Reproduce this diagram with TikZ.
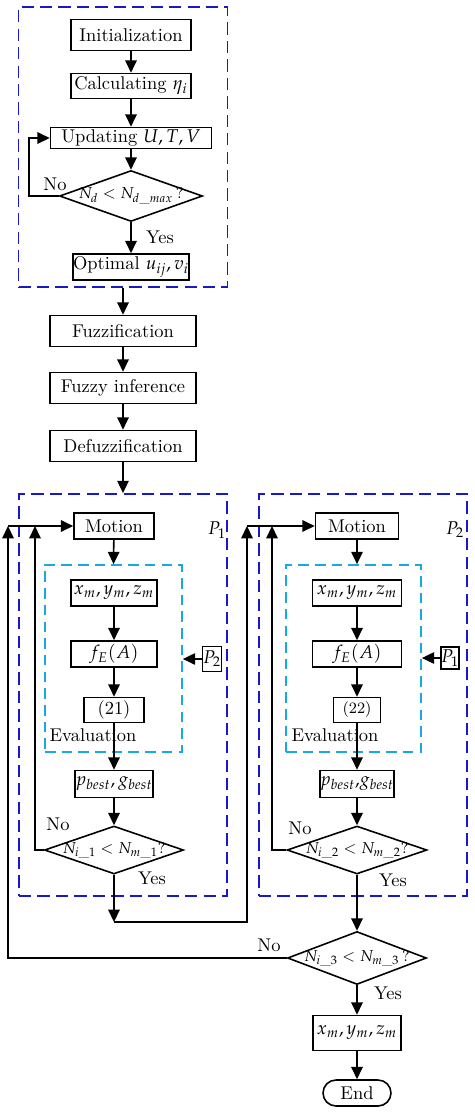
\documentclass[tikz,border=0pt]{standalone}
\usepackage{amsmath,amssymb}
\usepackage{mathpazo}
\usepackage{tikz}
\usetikzlibrary{shapes.geometric,arrows.meta}
\definecolor{grpblue}{RGB}{25,25,200}
\definecolor{grpcyan}{RGB}{25,170,220}

\begin{document}
\begin{tikzpicture}[x=0.02cm,y=-0.02cm,line width=0.9pt,>={Triangle[length=7pt,width=6.5pt]},
  font=\fontsize{10.5}{12.5}\selectfont,
  box/.style={draw,inner sep=0pt,minimum height=0.52cm},
  dec/.style={draw,diamond,inner sep=0pt},
  cond/.style={font=\small},
  grp/.style={draw=grpblue,line width=1.1pt,dash pattern=on 7pt off 3.5pt,inner sep=0pt},
  subgrp/.style={draw=grpcyan,line width=1pt,dash pattern=on 6pt off 3.5pt,inner sep=0pt}]
\useasboundingbox (0,0) rectangle (474,1117);

% clustering part
\draw (123,147) node[grp,minimum width=4.18cm,minimum height=5.6cm] (G0) {};
\draw (131,35) node[box,minimum width=2.4cm,minimum height=0.62cm] (init) {Initialization};
\draw (131,86) node[box,minimum width=2.4cm,minimum height=0.5cm] (calc) {Calculating $\eta_i$};
\draw (131,138) node[box,minimum width=3.22cm,minimum height=0.42cm] (upd) {Updating $U,T,V$};
\draw (131,196) node[dec,minimum width=2.86cm,minimum height=1.02cm,label={[cond]center:{$N_d<N_{d\_max}$\,?}}] (d0) {};
\draw (131,267) node[box,minimum width=2.32cm,minimum height=0.52cm] (opt) {Optimal $u_{ij}, v_i$};
\draw[->] (init) -- (calc);
\draw[->] (calc) -- (upd);
\draw[->] (upd) -- (d0);
\draw[->] (d0) -- (opt);
\draw[->] (d0.west) -- ++(-30,0) |- (upd.west);
\draw (55,184) node {No};
\draw (160,237) node {Yes};

% fuzzy part
\draw (123,331) node[box,minimum width=2.92cm,minimum height=0.62cm] (fuz) {Fuzzification};
\draw (123,388) node[box,minimum width=2.92cm,minimum height=0.62cm] (inf) {Fuzzy inference};
\draw (123,446) node[box,minimum width=2.92cm,minimum height=0.62cm] (defuz) {Defuzzification};
\draw[->] (G0.south) -- (fuz);
\draw[->] (fuz) -- (inf);
\draw[->] (inf) -- (defuz);

% population 1
\draw (123,695) node[grp,minimum width=4.16cm,minimum height=8.04cm] (G1) {};
\draw (217,530) node {$P_1$};
\draw (113.5,658.5) node[subgrp,minimum width=2.74cm,minimum height=3.74cm] (E1) {};
\draw (93,735) node {Evaluation};
\draw (114,526) node[box,minimum width=1.6cm] (mot1) {Motion};
\draw (114,593) node[box,minimum width=1.72cm] (xyz1) {$x_m,y_m,z_m$};
\draw (114,654) node[box,minimum width=1.72cm] (fe1) {$f_E(A)$};
\draw (114,710) node[box,minimum width=1.2cm,minimum height=0.5cm] (eq1) {(21)};
\draw (114,784) node[box,minimum width=1.56cm,minimum height=0.54cm] (best1) {$p_{best},g_{best}$};
\draw (114,850) node[dec,minimum width=2.78cm,minimum height=0.96cm,label={[cond]center:{$N_{i\_1}<N_{m\_1}$?}}] (d1) {};
\draw (212,659) node[box,minimum width=0.38cm,minimum height=0.5cm] (pin2) {$P_2$};
\draw[->] (defuz) -- (G1.north);
\draw[->] (mot1) -- (E1.north);
\draw[->] (xyz1) -- (fe1);
\draw[->] (fe1) -- (eq1);
\draw[->] (eq1) -- (best1);
\draw[->] (best1) -- (d1);
\draw[->] (pin2) -- (pin2 -| E1.east);
\draw (58,824) node {No};
\draw (152,878) node {Yes};

% population 2
\draw (363,695) node[grp,minimum width=4.16cm,minimum height=8.04cm] (G2) {};
\draw (455,530) node {$P_2$};
\draw (353.5,658.5) node[subgrp,minimum width=2.7cm,minimum height=3.74cm] (E2) {};
\draw (335,735) node {Evaluation};
\draw (357,526) node[box,minimum width=1.66cm] (mot2) {Motion};
\draw (357,593) node[box,minimum width=1.78cm] (xyz2) {$x_m,y_m,z_m$};
\draw (357,654) node[box,minimum width=1.78cm] (fe2) {$f_E(A)$};
\draw (357,710) node[box,minimum width=0.94cm,minimum height=0.5cm] (eq2) {\small(22)};
\draw (357,784) node[box,minimum width=1.24cm,minimum height=0.54cm] (best2) {$p_{best}{,}g_{best}$};
\draw (357,850) node[dec,minimum width=2.8cm,minimum height=0.96cm,label={[cond]center:{$N_{i\_2}<N_{m\_2}$?}}] (d2) {};
\draw (450,658) node[box,minimum width=0.36cm,minimum height=0.44cm] (pin1) {$P_1$};
\draw[->] (mot2) -- (E2.north -| mot2);
\draw[->] (xyz2) -- (fe2);
\draw[->] (fe2) -- (eq2);
\draw[->] (eq2) -- (best2);
\draw[->] (best2) -- (d2);
\draw[->] (pin1) -- (pin1 -| E2.east);
\draw (300,828) node {No};
\draw (393,880) node {Yes};

% outer loop
\draw (357,958) node[dec,minimum width=2.78cm,minimum height=1.06cm,label={[cond]center:{$N_{i\_3}<N_{m\_3}$\,?}}] (d3) {};
\draw (357,1033) node[box,minimum width=1.76cm,minimum height=0.7cm] (xyz3) {$x_m,y_m,z_m$};
\draw (357,1093) node[box,rounded corners=0.26cm,minimum width=1.36cm,minimum height=0.52cm] (end) {End};
\draw[->] (d2) -- (d3);
\draw[->] (d3) -- (xyz3);
\draw[->] (xyz3) -- (end);
\draw (269,945) node {No};
\draw (388,993) node {Yes};

\coordinate (in0) at (8,526);
\coordinate (in1) at (35,526);
\coordinate (in2) at (247,526);
\coordinate (in3) at (272,526);
\coordinate (j1) at (114,922);
\draw[->] (d3.west) -| (in0);
\draw[->] (in0) -- (mot1.west);
\draw[->] (d1.west) -| (in1);
\draw[->] (d1) -- (j1);
\draw[->] (j1) -| (in2);
\draw[->] (in2) -- (mot2.west);
\draw[->] (d2.west) -| (in3);

\end{tikzpicture}
\end{document}
